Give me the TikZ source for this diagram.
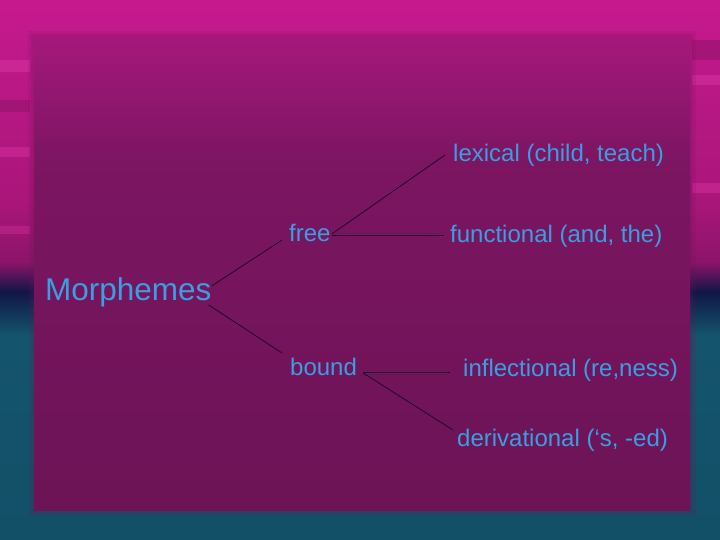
\documentclass[tikz,border=0pt]{standalone}
\usepackage{fontspec}
\setmainfont{Liberation Sans}
\usetikzlibrary{calc}
\definecolor{txtblue}{RGB}{58,158,224}
\definecolor{linecol}{RGB}{30,10,40}
\definecolor{magtop}{RGB}{198,25,142}
\definecolor{magmid}{RGB}{170,22,122}
\definecolor{magdark}{RGB}{140,20,105}
\definecolor{navy}{RGB}{16,22,70}
\definecolor{teal}{RGB}{20,84,108}
\definecolor{tealb}{RGB}{18,80,104}
\definecolor{paneltop}{RGB}{165,24,124}
\definecolor{panelmid}{RGB}{124,21,98}
\definecolor{panelbot}{RGB}{108,20,86}
\definecolor{stripe}{RGB}{212,48,158}
\tikzset{
  lbl/.style={text=txtblue, inner sep=0pt, anchor=base west, font=\fontsize{24}{27}\selectfont},
  big/.style={text=txtblue, inner sep=0pt, anchor=base west, font=\fontsize{31.5}{35}\selectfont},
  conn/.style={draw=linecol, line width=0.8pt}
}
\begin{document}
\begin{tikzpicture}[x=1pt,y=-1pt]
\useasboundingbox (0,0) rectangle (720,540);
% outer background bands
\shade[top color=magtop, bottom color=magmid] (0,0) rectangle (720,200);
\shade[top color=magmid, bottom color=magdark] (0,200) rectangle (720,262);
\shade[top color=magdark, bottom color=navy] (0,262) rectangle (720,292);
\shade[top color=navy, bottom color=teal] (0,292) rectangle (720,335);
\shade[top color=teal, bottom color=tealb] (0,335) rectangle (720,540);
% stripes on side strips
\fill[stripe, opacity=0.6] (0,60) rectangle (30,72);
\fill[magdark, opacity=0.5] (0,100) rectangle (30,112);
\fill[stripe, opacity=0.5] (0,147) rectangle (30,157);
\fill[stripe, opacity=0.4] (0,226) rectangle (30,234);
\fill[stripe, opacity=0.6] (692,75) rectangle (720,85);
\fill[stripe, opacity=0.5] (692,183) rectangle (720,193);
\fill[magdark, opacity=0.5] (692,40) rectangle (720,60);
% soft panel edge
\fill[panelbot, opacity=0.12] (28,31) rectangle (696,516);
\fill[panelbot, opacity=0.18] (31,34) rectangle (693,513);
% panel
\shade[top color=paneltop, bottom color=panelmid] (34,37) rectangle (690,160);
\shade[top color=panelmid, bottom color=panelbot] (34,160) rectangle (690,510);

% nodes
\node[lbl] (lex) at (453,162) {lexical (child, teach)};
\node[lbl] (fun) at (450,243) {functional (and, the)};
\node[big] (mor) at (45,300) {Morphemes};
\node[lbl] (fre) at (289,241) {free};
\node[lbl] (bou) at (290,375) {bound};
\node[lbl] (inf) at (463,376) {inflectional (re,ness)};
\node[lbl] (der) at (457,446) {derivational (‘s, -ed)};

% connectors
\draw[conn] ($(mor.base east)+(0,-14)$) -- ($(fre.base west)+(-7,-1)$);
\draw[conn] ($(mor.base east)+(-3,5)$) -- ($(bou.base west)+(-8,-22)$);
\draw[conn] ($(fre.base east)+(1,-7)$) -- ($(lex.base west)+(-8,-7)$);
\draw[conn] ($(fre.base east)+(1,-6)$) -- ($(fun.base west)+(-6,-8)$);
\draw[conn] ($(bou.base east)+(6,-3)$) -- ($(inf.base west)+(-13,-4)$);
\draw[conn] ($(bou.base east)+(6,-2)$) -- ($(der.base west)+(-4,-16)$);
\end{tikzpicture}
\end{document}
